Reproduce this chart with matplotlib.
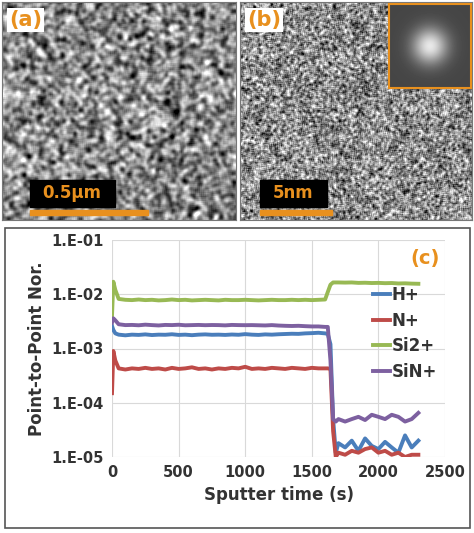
import numpy as np
import matplotlib.pyplot as plt
from matplotlib.patches import Rectangle

# Sputter time (s)
t = [0, 10, 25, 50,
     100, 150, 200, 250, 300, 350, 400, 450, 500, 550, 600, 650, 700, 750, 800, 850,
     900, 950, 1000, 1050, 1100, 1150, 1200, 1250, 1300, 1350, 1400, 1450, 1500, 1550, 1600,
     1620, 1640, 1660, 1680, 1700,
     1750, 1800, 1850, 1900, 1950, 2000, 2050, 2100, 2150, 2200, 2250, 2300]

h_plus = [2.6e-3, 2.2e-3, 1.9e-3, 1.8e-3,
          1.75e-3, 1.8e-3, 1.78e-3, 1.82e-3, 1.77e-3, 1.8e-3, 1.79e-3, 1.83e-3, 1.78e-3, 1.8e-3,
          1.76e-3, 1.8e-3, 1.82e-3, 1.79e-3, 1.8e-3, 1.78e-3, 1.81e-3, 1.79e-3, 1.84e-3, 1.8e-3,
          1.78e-3, 1.82e-3, 1.8e-3, 1.83e-3, 1.85e-3, 1.87e-3, 1.86e-3, 1.9e-3, 1.92e-3, 1.95e-3, 1.9e-3,
          1.85e-3, 1.2e-3, 5e-5, 1.2e-5, 1.8e-5,
          1.5e-5, 2.0e-5, 1.3e-5, 2.2e-5, 1.6e-5, 1.4e-5, 1.9e-5, 1.5e-5, 1.2e-5, 2.5e-5, 1.5e-5, 2.0e-5]

n_plus = [1.5e-4, 9e-4, 6e-4, 4.3e-4,
          4.1e-4, 4.3e-4, 4.2e-4, 4.4e-4, 4.2e-4, 4.3e-4, 4.1e-4, 4.4e-4, 4.2e-4, 4.3e-4,
          4.5e-4, 4.2e-4, 4.3e-4, 4.1e-4, 4.3e-4, 4.2e-4, 4.4e-4, 4.3e-4, 4.6e-4, 4.2e-4,
          4.3e-4, 4.2e-4, 4.4e-4, 4.3e-4, 4.2e-4, 4.4e-4, 4.3e-4, 4.2e-4, 4.4e-4, 4.3e-4, 4.3e-4,
          4.3e-4, 4.2e-4, 3e-5, 1.0e-5, 1.2e-5,
          1.1e-5, 1.3e-5, 1.2e-5, 1.4e-5, 1.5e-5, 1.2e-5, 1.3e-5, 1.1e-5, 1.2e-5, 1.0e-5, 1.1e-5, 1.1e-5]

si2_plus = [4e-3, 1.7e-2, 1.2e-2, 8.2e-3,
            7.9e-3, 7.8e-3, 8.0e-3, 7.8e-3, 7.9e-3, 7.7e-3, 7.8e-3, 8.0e-3, 7.8e-3, 7.9e-3,
            7.7e-3, 7.8e-3, 7.9e-3, 7.8e-3, 7.7e-3, 7.9e-3, 7.8e-3, 7.8e-3, 7.9e-3, 7.8e-3,
            7.7e-3, 7.8e-3, 7.9e-3, 7.8e-3, 7.8e-3, 7.9e-3, 7.8e-3, 7.9e-3, 7.8e-3, 7.9e-3, 8.0e-3,
            1.1e-2, 1.5e-2, 1.65e-2, 1.65e-2, 1.65e-2,
            1.64e-2, 1.65e-2, 1.62e-2, 1.63e-2, 1.61e-2, 1.62e-2, 1.6e-2, 1.61e-2, 1.58e-2, 1.59e-2, 1.57e-2, 1.56e-2]

sin_plus = [3e-3, 3.6e-3, 3.3e-3, 2.8e-3,
            2.7e-3, 2.72e-3, 2.68e-3, 2.75e-3, 2.7e-3, 2.66e-3, 2.72e-3, 2.7e-3, 2.74e-3, 2.68e-3,
            2.7e-3, 2.72e-3, 2.69e-3, 2.71e-3, 2.7e-3, 2.67e-3, 2.72e-3, 2.7e-3, 2.69e-3, 2.7e-3,
            2.68e-3, 2.66e-3, 2.7e-3, 2.65e-3, 2.62e-3, 2.6e-3, 2.62e-3, 2.58e-3, 2.55e-3, 2.55e-3, 2.5e-3,
            2.5e-3, 6e-4, 5e-5, 4.5e-5, 5e-5,
            4.5e-5, 5e-5, 5.5e-5, 4.8e-5, 6e-5, 5.5e-5, 5e-5, 6e-5, 5.5e-5, 4.5e-5, 5e-5, 6.5e-5]

series = [("H+", h_plus, "#4a7ebb"), ("N+", n_plus, "#be4b48"),
          ("Si2+", si2_plus, "#98b954"), ("SiN+", sin_plus, "#7d60a0")]
yticks = [1e-5, 1e-4, 1e-3, 1e-2, 1e-1]
ytick_labels = ["1.E-05", "1.E-04", "1.E-03", "1.E-02", "1.E-01"]
xticks = [0, 500, 1000, 1500, 2000, 2500]

ORANGE = "#e8901e"
W, H = 474, 533
fig = plt.figure(figsize=(W / 100, H / 100), dpi=100)


def fax(x0, y0, x1, y1):
    # axes from pixel box (top-left origin)
    return fig.add_axes([x0 / W, 1 - y1 / H, (x1 - x0) / W, (y1 - y0) / H])


def blur(img, k):
    out = np.zeros_like(img)
    for dx in range(-k, k + 1):
        for dy in range(-k, k + 1):
            out += np.roll(np.roll(img, dx, 0), dy, 1)
    return out / (2 * k + 1) ** 2


rng = np.random.default_rng(3)

# (a) grainy surface texture
ax_a = fax(2, 2, 236, 220)
tex_a = blur(blur(rng.random((218, 234)), 2), 1)
sa = tex_a.std()
ax_a.imshow(tex_a, cmap="gray", aspect="auto", vmin=tex_a.mean() - 3 * sa, vmax=tex_a.mean() + 2.6 * sa)
ax_a.set_xticks([]); ax_a.set_yticks([])
for s in ax_a.spines.values():
    s.set_color("#777777")
ax_a.text(0.03, 0.965, "(a)", transform=ax_a.transAxes, ha="left", va="top", color=ORANGE,
          fontsize=15, fontweight="bold", bbox=dict(fc="white", ec="none", pad=1.5))
ax_a.add_patch(Rectangle((28 / 234, 1 - 205 / 218), 85 / 234, 27 / 218, transform=ax_a.transAxes, color="black"))
ax_a.add_patch(Rectangle((28 / 234, 1 - 213 / 218), 118 / 234, 5 / 218, transform=ax_a.transAxes, color=ORANGE))
ax_a.text(70 / 234, 1 - 191 / 218, "0.5µm", transform=ax_a.transAxes, ha="center", va="center",
          color=ORANGE, fontsize=12, fontweight="bold")

# (b) fine lattice texture
ax_b = fax(240, 2, 472, 220)
tex_b = blur(rng.random((218, 232)), 1)
sb = tex_b.std()
ax_b.imshow(tex_b, cmap="gray", aspect="auto", vmin=tex_b.mean() - 3.2 * sb, vmax=tex_b.mean() + 2.6 * sb)
ax_b.set_xticks([]); ax_b.set_yticks([])
for s in ax_b.spines.values():
    s.set_color("#777777")
ax_b.text(0.03, 0.965, "(b)", transform=ax_b.transAxes, ha="left", va="top", color=ORANGE,
          fontsize=15, fontweight="bold", bbox=dict(fc="white", ec="none", pad=1.5))
ax_b.add_patch(Rectangle((20 / 232, 1 - 205 / 218), 67 / 232, 27 / 218, transform=ax_b.transAxes, color="black"))
ax_b.add_patch(Rectangle((20 / 232, 1 - 213 / 218), 72 / 232, 5 / 218, transform=ax_b.transAxes, color=ORANGE))
ax_b.text(53 / 232, 1 - 191 / 218, "5nm", transform=ax_b.transAxes, ha="center", va="center",
          color=ORANGE, fontsize=12, fontweight="bold")

# inset FFT
ax_i = fax(389, 4, 471, 88)
yy, xx = np.mgrid[-1:1:84j, -1:1:82j]
fft = 0.3 + 0.7 * np.exp(-(xx ** 2 + yy ** 2) / 0.18)
ax_i.imshow(fft, cmap="gray", aspect="auto", vmin=0, vmax=1.1)
ax_i.set_xticks([]); ax_i.set_yticks([])
for s in ax_i.spines.values():
    s.set_color(ORANGE); s.set_linewidth(1.5)

# (c) frame
fig.patches.append(Rectangle((5 / W, 1 - 528 / H), 465 / W, 300 / H, transform=fig.transFigure,
                             fill=False, ec="#555555", lw=1.2))

ax = fax(112, 240, 445, 457)
for name, vals, col in series:
    ax.plot(t, vals, color=col, lw=2.8, label=name)
ax.set_yscale("log")
ax.set_ylim(1e-5, 1e-1)
ax.set_xlim(0, 2500)
ax.set_yticks(yticks)
ax.set_yticklabels(ytick_labels)
ax.set_xticks(xticks)
ax.minorticks_off()
ax.grid(True, color="#d9d9d9", lw=0.8)
for s in ax.spines.values():
    s.set_visible(False)
ax.tick_params(length=0, labelsize=10.5, colors="#333333", pad=6)
for lab in ax.get_xticklabels() + ax.get_yticklabels():
    lab.set_fontweight("bold")
ax.set_xlabel("Sputter time (s)", fontsize=12, fontweight="bold", color="#333333")
ax.set_ylabel("Point-to-Point Nor.", fontsize=12, fontweight="bold", color="#333333")
leg = ax.legend(loc="center right", bbox_to_anchor=(1.02, 0.57), frameon=False, handlelength=1.0,
                handletextpad=0.1, labelspacing=0.45, prop=dict(size=12, weight="bold"))
for txt in leg.get_texts():
    txt.set_color("#333333")
ax.text(0.985, 0.96, "(c)", transform=ax.transAxes, ha="right", va="top", color=ORANGE,
        fontsize=14, fontweight="bold")

fig.savefig("out.png", dpi=100)
